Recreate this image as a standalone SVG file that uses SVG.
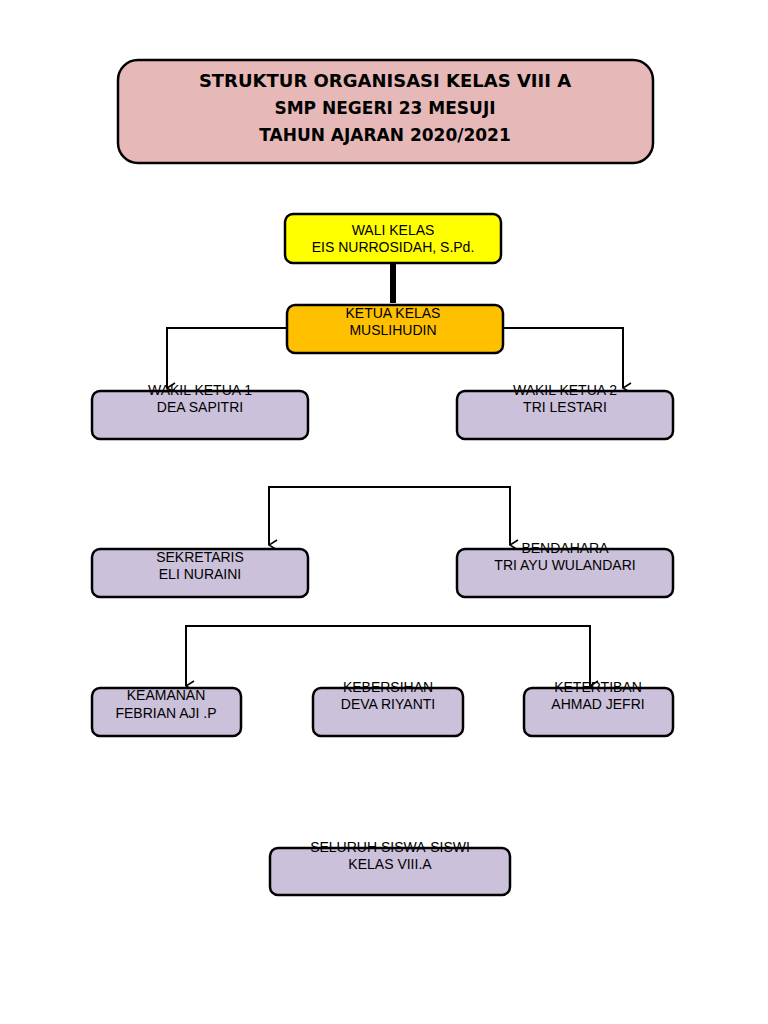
<svg xmlns="http://www.w3.org/2000/svg" width="768" height="1024" viewBox="0 0 768 1024">
<defs>
<marker id="v" markerWidth="12" markerHeight="10" refX="6" refY="9" orient="auto-start-reverse" markerUnits="userSpaceOnUse" viewBox="0 0 12 10"><path d="M1,1 L6,9 L11,1" fill="none" stroke="#000" stroke-width="1.5"/></marker>
</defs>
<style>
.b{stroke:#000;stroke-width:2.5}
.p{fill:#ccc1da}
text{font-family:"Liberation Sans",Arial,sans-serif;font-size:14px;text-anchor:middle;fill:#000}
.t{font-family:"DejaVu Sans",Verdana,sans-serif;font-weight:bold;font-size:17px}
.c{fill:none;stroke:#000;stroke-width:2}
</style>
<rect width="768" height="1024" fill="#fff"/>
<g id="title"><rect x="118" y="60" width="535" height="103" rx="20" fill="#e6b8b7" class="b"/>
<text class="t" x="385" y="87" style="font-size:18px">STRUKTUR ORGANISASI  KELAS VIII A</text>
<text class="t" x="385" y="114">SMP NEGERI 23 MESUJI</text>
<text class="t" x="385" y="141">TAHUN AJARAN 2020/2021</text></g>
<g id="connectors">
<line x1="393" y1="263" x2="393" y2="303" stroke="#000" stroke-width="6"/>
<polyline class="c" points="287,328 167,328 167,388" marker-end="url(#v)"/>
<polyline class="c" points="503,328 623,328 623,388" marker-end="url(#v)"/>
<polyline class="c" points="269,545 269,487 510,487 510,545" marker-start="url(#v)" marker-end="url(#v)"/>
<polyline class="c" points="186,686 186,626 590,626 590,686" marker-start="url(#v)" marker-end="url(#v)"/>
</g>
<g id="wali"><rect x="285" y="214" width="216" height="49" rx="8" fill="#ffff00" class="b"/><text x="393" y="235">WALI KELAS</text><text x="393" y="252">EIS NURROSIDAH, S.Pd.</text></g>
<g id="ketua"><rect x="287" y="305" width="216" height="48" rx="8" fill="#ffc000" class="b"/><text x="393" y="318">KETUA KELAS</text><text x="393" y="335">MUSLIHUDIN</text></g>
<g id="wakil1"><rect x="92" y="391" width="216" height="48" rx="8" class="b p"/><text x="200" y="395">WAKIL KETUA 1</text><text x="200" y="412">DEA SAPITRI</text></g>
<g id="wakil2"><rect x="457" y="391" width="216" height="48" rx="8" class="b p"/><text x="565" y="395">WAKIL KETUA 2</text><text x="565" y="412">TRI LESTARI</text></g>
<g id="sekretaris"><rect x="92" y="549" width="216" height="48" rx="8" class="b p"/><text x="200" y="562">SEKRETARIS</text><text x="200" y="579">ELI NURAINI</text></g>
<g id="bendahara"><rect x="457" y="549" width="216" height="48" rx="8" class="b p"/><text x="565" y="553">BENDAHARA</text><text x="565" y="570">TRI AYU WULANDARI</text></g>
<g id="keamanan"><rect x="92" y="688" width="149" height="48" rx="8" class="b p"/><text x="166" y="700">KEAMANAN</text><text x="166" y="718">FEBRIAN AJI .P</text></g>
<g id="kebersihan"><rect x="313" y="688" width="150" height="48" rx="8" class="b p"/><text x="388" y="692">KEBERSIHAN</text><text x="388" y="709">DEVA RIYANTI</text></g>
<g id="ketertiban"><rect x="524" y="688" width="149" height="48" rx="8" class="b p"/><text x="598" y="692">KETERTIBAN</text><text x="598" y="709">AHMAD JEFRI</text></g>
<g id="siswa"><rect x="270" y="848" width="240" height="47" rx="8" class="b p"/><text x="390" y="852">SELURUH SISWA-SISWI</text><text x="390" y="869">KELAS VIII.A</text></g>
</svg>
